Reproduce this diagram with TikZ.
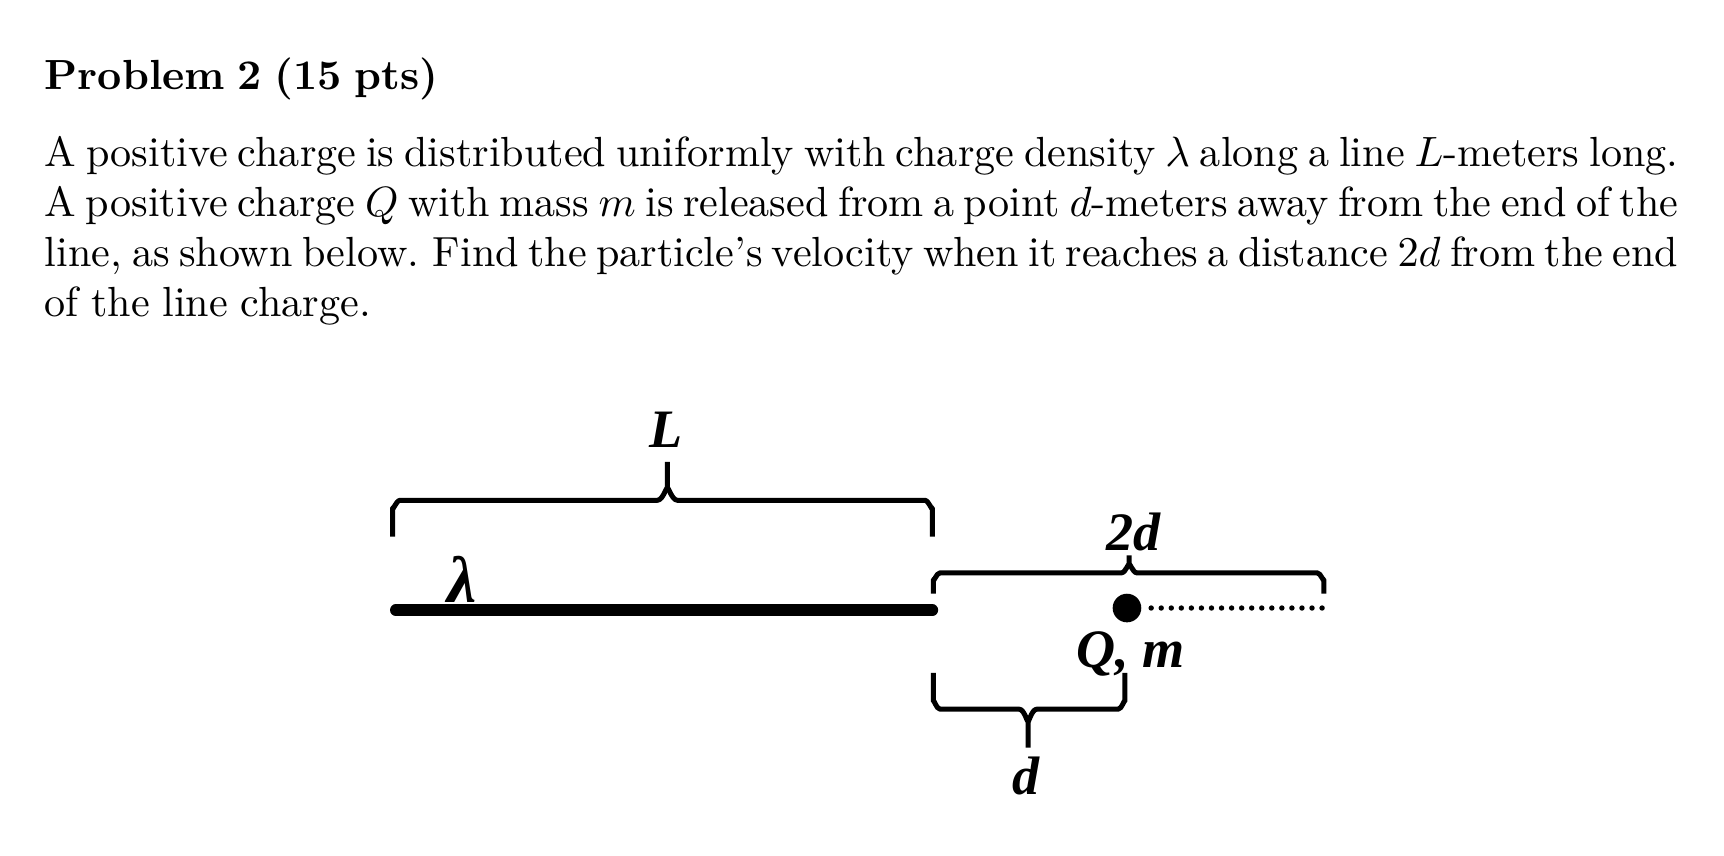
\documentclass[tikz,border=0pt]{standalone}
\usepackage{fontspec}
\newfontfamily\dfont{Liberation Serif}
\begin{document}
\begin{tikzpicture}[x=0.01cm,y=-0.01cm,
  br/.style={line width=1.3pt,line join=round},
  lab/.style={font=\dfont\bfseries\itshape\fontsize{14}{16}\selectfont,inner sep=0pt}]
\useasboundingbox (0,0) rectangle (1568,778);
\node[anchor=north west,inner sep=0pt,text width=14.85cm,align=justify,font=\fontsize{10.9}{12.9}\selectfont] (txt) at (40,52)
{\hyphenpenalty=10000 \spaceskip=0.3em plus 0.3em minus 0.15em \xspaceskip=0.4em plus 0.2em minus 0.15em \textbf{Problem 2 (15 pts)}\par\vspace{7pt}
A positive charge is distributed uniformly with charge density $\lambda$ along a line $L$-meters long.\linebreak A positive charge $Q$ with mass $m$ is released from a point $d$-meters away from the end of the\linebreak line, as shown below. Find the particle's \mbox{velocity} when it reaches a distance $2d$ from the end\linebreak of the line charge.};
% line charge
\draw[line width=3pt,line cap=round] (360,555) coordinate (a) -- (848,555) coordinate (b);
\node[lab,font=\dfont\bfseries\itshape\fontsize{17}{18}\selectfont] (lam) at (420,527) {λ};
% L brace
\draw[br] (357,488) -- (357,462) to[out=-90,in=180] (364,455) -- (598,455) to[out=0,in=90] (607,445) -- (607,420);
\draw[br] (848,488) -- (848,462) to[out=-90,in=0] (841,455) -- (616,455) to[out=180,in=90] (607,445);
\node[lab] (Llab) at (606,391) {L};
% 2d brace
\draw[br] (849,540) -- (849,527) to[out=-90,in=180] (855,521) -- (1020,521) to[out=0,in=90] (1027,514) -- (1027,505);
\draw[br] (1204,540) -- (1204,527) to[out=-90,in=0] (1198,521) -- (1034,521) to[out=180,in=90] (1027,514);
\node[lab] (twod) at (1031,484) {2d};
% charge
\node[circle,fill,inner sep=0pt,minimum size=0.26cm] (q) at (1025,553) {};
\coordinate (e) at (1205,553);
\draw[line width=1.4pt,line cap=round,dash pattern=on 0pt off 2.6pt] ([xshift=0.22cm]q.center) -- (e);
\node[lab] (Qm) at (1028,595) {Q, m};
% d brace
\draw[br] (849,612) -- (849,638) to[out=90,in=180] (855,645) -- (927,645) to[out=0,in=-90] (935,655) -- (935,680);
\draw[br] (1023,612) -- (1023,638) to[out=90,in=0] (1017,645) -- (943,645) to[out=180,in=-90] (935,655);
\node[lab] (dlab) at (933,706) {d};
\end{tikzpicture}
\end{document}
